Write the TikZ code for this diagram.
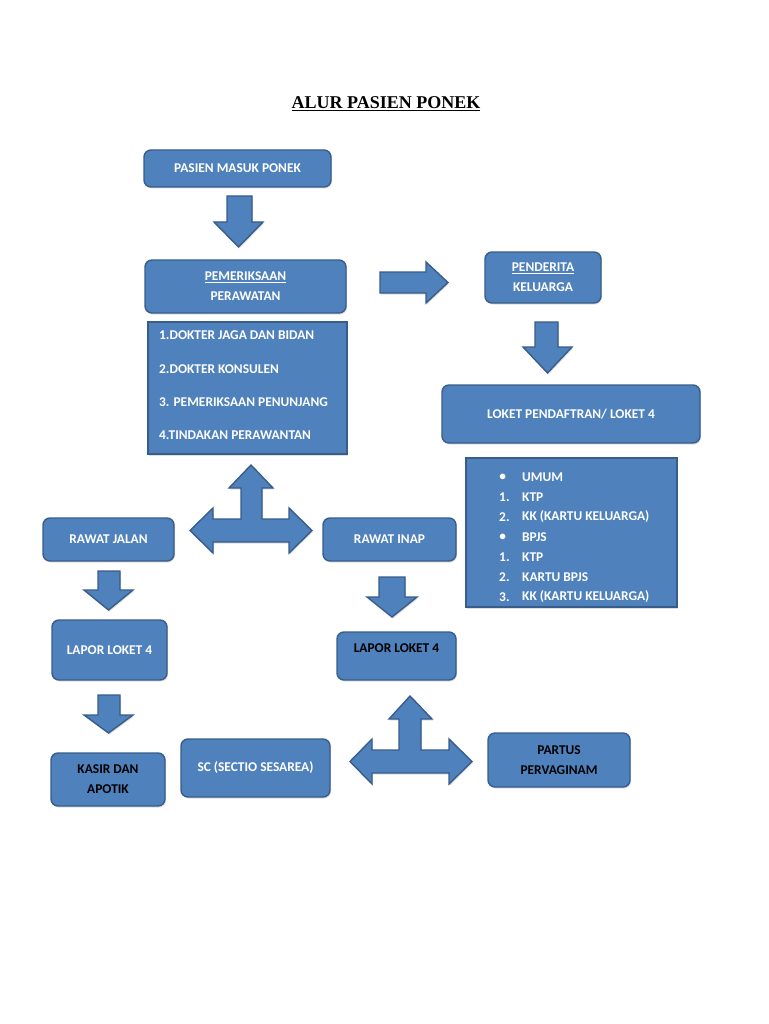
\documentclass[tikz,border=0pt]{standalone}
\usepackage{fontspec}
\setmainfont{Carlito}
\newfontfamily\titlefont{Liberation Serif}
\usetikzlibrary{shadows}
\definecolor{boxfill}{HTML}{4F81BD}
\definecolor{boxline}{HTML}{385D8A}
\begin{document}
\begin{tikzpicture}[x=1pt,y=-1pt,
  base/.style={fill=boxfill,draw=boxline,line width=1.4pt,
    drop shadow={opacity=0.25,shadow xshift=1pt,shadow yshift=-1.5pt}},
  rbox/.style={base,rounded corners=7pt,inner sep=0pt,align=center,
    text=white,font=\bfseries\fontsize{13.4}{19.8}\selectfont},
  sbox/.style={base,inner sep=0pt},
  itm/.style={anchor=west,inner sep=0pt,text=white,font=\bfseries\fontsize{13.4}{15}\selectfont},
  blk/.style={base,line join=miter}
]
\useasboundingbox (0,0) rectangle (768,1024);
\fill[white] (0,0) rectangle (768,1024);

% title
\node[font=\titlefont\bfseries\fontsize{18}{20}\selectfont] (title) at (386,104) {\underline{ALUR PASIEN PONEK}};

% boxes
\node[rbox,minimum width=187,minimum height=37] (pasien) at (237.5,168.5) {PASIEN MASUK PONEK};
\node[rbox,minimum width=201,minimum height=53] (periksa) at (245.5,286.5) {\underline{PEMERIKSAAN}\\PERAWATAN};
\node[sbox,minimum width=199,minimum height=132] (list1) at (247.5,388) {};
\node[rbox,minimum width=116,minimum height=51] (penderita) at (543,277.5) {\underline{PENDERITA}\\KELUARGA};
\node[rbox,minimum width=258,minimum height=58] (loket) at (571,414) {LOKET PENDAFTRAN/ LOKET 4};
\node[sbox,minimum width=211,minimum height=149] (list2) at (571.5,532.5) {};
\node[rbox,minimum width=131,minimum height=43] (jalan) at (108.5,539.5) {RAWAT JALAN};
\node[rbox,minimum width=133,minimum height=43] (inap) at (389.5,539.5) {RAWAT INAP};
\node[rbox,minimum width=115,minimum height=60] (laporL) at (109.5,650) {LAPOR LOKET 4};
\node[rbox,minimum width=119,minimum height=48] (laporR) at (396.5,656) {};
\node[text=black,font=\bfseries\fontsize{13.4}{15}\selectfont] (laporRt) at (396.5,648) {LAPOR LOKET 4};
\node[rbox,text=black,minimum width=114,minimum height=53] (kasir) at (108,779.5) {KASIR DAN\\APOTIK};
\node[rbox,minimum width=149,minimum height=58] (sc) at (255.5,768) {SC (SECTIO SESAREA)};
\node[rbox,text=black,minimum width=142,minimum height=54] (partus) at (559,760) {PARTUS\\PERVAGINAM};

% list 1
\node[itm] (l1a) at (159,335) {1.DOKTER JAGA DAN BIDAN};
\node[itm] (l1b) at (159,369) {2.DOKTER KONSULEN};
\node[itm] (l1c) at (159,402) {3. PEMERIKSAAN PENUNJANG};
\node[itm] (l1d) at (159,435) {4.TINDAKAN PERAWANTAN};

% list 2
\node[itm] (m1m) at (499,477) {$\bullet$};
\node[itm] (m1) at (522,477) {UMUM};
\node[itm] (m2m) at (499,497) {1.};
\node[itm] (m2) at (522,497) {KTP};
\node[itm] (m3m) at (499,517) {2.};
\node[itm] (m3) at (522,517) {KK (KARTU KELUARGA)};
\node[itm] (m4m) at (499,537) {$\bullet$};
\node[itm] (m4) at (522,537) {BPJS};
\node[itm] (m5m) at (499,557) {1.};
\node[itm] (m5) at (522,557) {KTP};
\node[itm] (m6m) at (499,577) {2.};
\node[itm] (m6) at (522,577) {KARTU BPJS};
\node[itm] (m7m) at (499,597) {3.};
\node[itm] (m7) at (522,597) {KK (KARTU KELUARGA)};

% block arrows
% pasien -> pemeriksaan
\draw[blk] (227,196) -- (252,196) -- (252,222) -- (263,222) -- (238.5,247) -- (214,222) -- (227,222) -- cycle;
% pemeriksaan -> penderita
\draw[blk] (380,272) -- (426,272) -- (426,262) -- (448,282.5) -- (426,303) -- (426,293) -- (380,293) -- cycle;
% penderita -> loket
\draw[blk] (535,322) -- (558,322) -- (558,347) -- (572,347) -- (547.5,373) -- (523,347) -- (535,347) -- cycle;
% T-arrow top
\draw[blk] (251,465) -- (273,488) -- (262,488) -- (262,519) -- (289,519) -- (289,508) -- (312,530.5)
  -- (289,553) -- (289,542) -- (213,542) -- (213,553) -- (190,530.5) -- (213,508) -- (213,519)
  -- (241,519) -- (241,488) -- (229,488) -- cycle;
% rawat jalan -> lapor
\draw[blk] (98,571) -- (120,571) -- (120,590) -- (133,590) -- (108.5,610) -- (84,590) -- (98,590) -- cycle;
% lapor -> kasir
\draw[blk] (98,695) -- (120,695) -- (120,715) -- (133,715) -- (108.5,733) -- (84,715) -- (98,715) -- cycle;
% rawat inap -> lapor
\draw[blk] (379,577) -- (405,577) -- (405,597) -- (417,597) -- (392,617) -- (367,597) -- (379,597) -- cycle;
% T-arrow bottom
\draw[blk] (410,696) -- (432,719) -- (421,719) -- (421,750) -- (449,750) -- (449,739) -- (472,761.5)
  -- (449,784) -- (449,773) -- (372,773) -- (372,784) -- (350,761.5) -- (372,739) -- (372,750)
  -- (399,750) -- (399,719) -- (389,719) -- cycle;
\end{tikzpicture}
\end{document}
